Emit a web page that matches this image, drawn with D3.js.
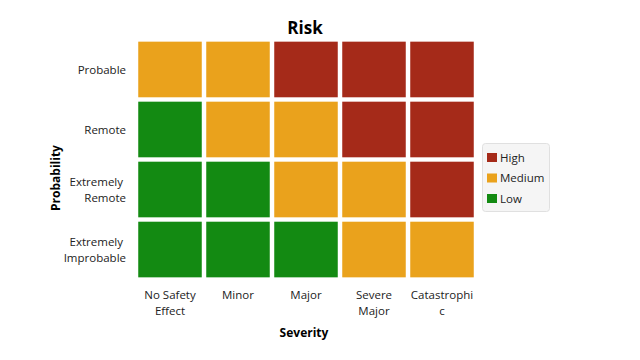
<!DOCTYPE html>
<html><head><meta charset="utf-8">
<script src="https://cdn.jsdelivr.net/npm/d3@7"></script>
<style>
body{margin:0;background:#fff;}
text{font-family:"Open Sans",sans-serif;}
</style></head>
<body><svg id="c" width="640" height="360"></svg>
<script>
const severities = ["No Safety Effect","Minor","Major","Severe Major","Catastrophic"];
const severityLabels = [["No Safety","Effect"],["Minor"],["Major"],["Severe","Major"],["Catastrophi","c"]];
const probabilities = ["Probable","Remote","Extremely Remote","Extremely Improbable"];
const probabilityLabels = [["Probable"],["Remote"],["Extremely ","Remote"],["Extremely ","Improbable"]];
const riskProbable = ["Medium","Medium","High","High","High"];
const riskRemote = ["Low","Medium","Medium","High","High"];
const riskExtRemote = ["Low","Low","Medium","Medium","High"];
const riskExtImprobable = ["Low","Low","Low","Medium","Medium"];
const levels = ["High","Medium","Low"];
const levelColors = ["#A52A19","#EAA21C","#138A12"];

const rows = [riskProbable, riskRemote, riskExtRemote, riskExtImprobable];
const cells = [];
rows.forEach((r,i)=>r.forEach((v,j)=>cells.push({p:probabilities[i],s:severities[j],v})));

const svg = d3.select("#c");
const x = d3.scaleBand().domain(severities).range([136,476]).paddingInner(0.066).paddingOuter(0.033);
const y = d3.scaleBand().domain(probabilities).range([39.5,279.5]).paddingInner(0.073).paddingOuter(0.036);
const color = d3.scaleOrdinal().domain(levels).range(levelColors);

svg.selectAll("rect.cell").data(cells).join("rect").attr("class","cell")
  .attr("x",d=>x(d.s)).attr("y",d=>y(d.p))
  .attr("width",x.bandwidth()).attr("height",y.bandwidth())
  .attr("fill",d=>color(d.v));

// title
svg.append("text").attr("x",305).attr("y",33.5).attr("text-anchor","middle")
  .attr("font-size",17).attr("font-weight","bold").text("Risk");

// y labels
probabilities.forEach((p,i)=>{
  const lines = probabilityLabels[i];
  const cy = y(p)+y.bandwidth()/2;
  const t = svg.append("text").attr("text-anchor","end").attr("font-size",11.5).attr("fill","#222")
    .style("white-space","pre");
  lines.forEach((l,k)=>{
    t.append("tspan").attr("x",126).attr("y",cy + (k-(lines.length-1)/2)*16 + 4.5).text(l);
  });
});

// x labels
severities.forEach((s,i)=>{
  const lines = severityLabels[i];
  const cx = x(s)+x.bandwidth()/2;
  const t = svg.append("text").attr("text-anchor","middle").attr("font-size",11.5).attr("fill","#222");
  lines.forEach((l,k)=>{
    t.append("tspan").attr("x",cx).attr("y",299+k*16).text(l);
  });
});

// axis titles
svg.append("text").attr("x",304).attr("y",337).attr("text-anchor","middle")
  .attr("font-size",12).attr("font-weight","bold").text("Severity");
svg.append("text").attr("transform","translate(60,178) rotate(-90)").attr("text-anchor","middle")
  .attr("font-size",12).attr("font-weight","bold").text("Probability");

// legend
const lg = svg.append("g");
lg.append("rect").attr("x",482.5).attr("y",143.5).attr("width",67).attr("height",68).attr("rx",3)
  .attr("fill","#f5f5f5").attr("stroke","#e0e0e0");
levels.forEach((l,i)=>{
  lg.append("rect").attr("x",487).attr("y",153+i*20.5).attr("width",10).attr("height",9).attr("fill",color(l));
  lg.append("text").attr("x",500).attr("y",161.5+i*20.5).attr("font-size",11.5).attr("fill","#222").text(l);
});
</script></body></html>
